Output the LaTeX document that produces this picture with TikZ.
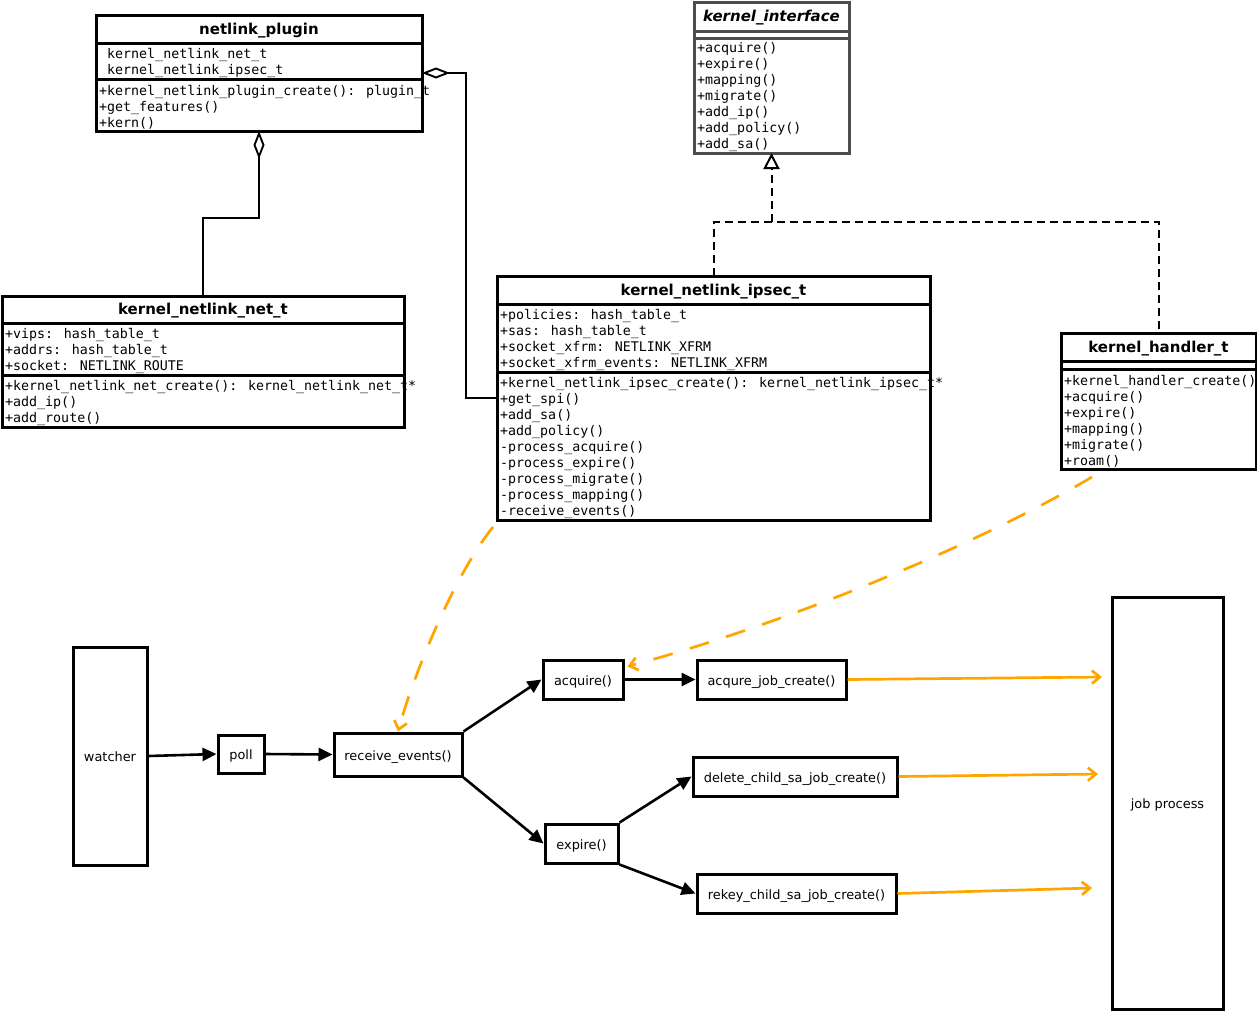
\documentclass[tikz,border=0pt]{standalone}
\usepackage{fontspec}
\setmainfont{DejaVu Sans}
\newfontfamily\umlmono{DejaVu Sans Mono}
\usetikzlibrary{arrows.meta,positioning,calc}
\definecolor{kigray}{HTML}{4D4D4D}
\definecolor{flow}{HTML}{FFA500}

\tikzset{
  classtitle/.style={draw,line width=3pt,inner sep=0pt,outer sep=0pt,text height=14pt,text depth=3.4pt,font=\bfseries\fontsize{15}{18}\selectfont},
  compart/.style={draw,line width=3pt,inner sep=0pt,outer sep=0pt},
  members/.style={anchor=west,align=left,inner xsep=3pt,inner ysep=0pt,yshift=-1.8pt,font=\umlmono\fontsize{13.3}{16}\selectfont},
  aggr/.style={line width=1.9pt,-{Diamond[open,length=28pt,width=11pt]}},
  realize/.style={line width=2pt,dash pattern=on 8pt off 5pt},
  proc/.style={draw,line width=3pt,inner sep=0pt,text height=13pt,text depth=2pt,font=\fontsize{12.9}{15}\selectfont},
  call/.style={line width=2.6pt,-{Triangle[length=14pt,width=13pt]}},
  job/.style={draw=flow,line width=2.7pt,-{Straight Barb[length=8pt,width=13pt]}},
  event/.style={job,dash pattern=on 20pt off 18pt}
}

\begin{document}
\begin{tikzpicture}[x=1pt,y=-1pt]
  \useasboundingbox (0,0) rectangle (1257,1010);

  % netlink_plugin
  \node[classtitle,minimum width=326pt,minimum height=28pt] (np) at (259,29) {netlink\_plugin};
  \node[compart,minimum width=326pt,minimum height=36pt,below=0pt of np] (np-attr) {};
  \node[compart,minimum width=326pt,minimum height=52pt,below=0pt of np-attr] (np-meth) {};
  \node[members] (np-attr-txt) at (np-attr.west) {\phantom{+}kernel\_netlink\_net\_t\\\phantom{+}kernel\_netlink\_ipsec\_t};
  \node[members] (np-meth-txt) at (np-meth.west) {+kernel\_netlink\_plugin\_create(): plugin\_t\\+get\_features()\\+kern()};

  % kernel_interface
  \node[classtitle,draw=kigray,minimum width=155pt,minimum height=29pt,font=\bfseries\itshape\fontsize{15}{18}\selectfont] (ki) at (771.5,16.5) {kernel\_interface};
  \node[compart,draw=kigray,minimum width=155pt,minimum height=7pt,below=0pt of ki] (ki-attr) {};
  \node[compart,draw=kigray,minimum width=155pt,minimum height=115pt,below=0pt of ki-attr] (ki-meth) {};
  \node[members] (ki-meth-txt) at (ki-meth.west) {+acquire()\\+expire()\\+mapping()\\+migrate()\\+add\_ip()\\+add\_policy()\\+add\_sa()};

  % kernel_netlink_net_t
  \node[classtitle,minimum width=402pt,minimum height=27pt] (nnt) at (203,309.5) {kernel\_netlink\_net\_t};
  \node[compart,minimum width=402pt,minimum height=52pt,below=0pt of nnt] (nnt-attr) {};
  \node[compart,minimum width=402pt,minimum height=52pt,below=0pt of nnt-attr] (nnt-meth) {};
  \node[members] (nnt-attr-txt) at (nnt-attr.west) {+vips: hash\_table\_t\\+addrs: hash\_table\_t\\+socket: NETLINK\_ROUTE};
  \node[members] (nnt-meth-txt) at (nnt-meth.west) {+kernel\_netlink\_net\_create(): kernel\_netlink\_net\_t*\\+add\_ip()\\+add\_route()};

  % kernel_netlink_ipsec_t
  \node[classtitle,minimum width=433pt,minimum height=28pt] (ipsec) at (713.5,290) {kernel\_netlink\_ipsec\_t};
  \node[compart,minimum width=433pt,minimum height=68pt,below=0pt of ipsec] (ipsec-attr) {};
  \node[compart,minimum width=433pt,minimum height=148pt,below=0pt of ipsec-attr] (ipsec-meth) {};
  \node[members] (ipsec-attr-txt) at (ipsec-attr.west) {+policies: hash\_table\_t\\+sas: hash\_table\_t\\+socket\_xfrm: NETLINK\_XFRM\\+socket\_xfrm\_events: NETLINK\_XFRM};
  \node[members] (ipsec-meth-txt) at (ipsec-meth.west) {+kernel\_netlink\_ipsec\_create(): kernel\_netlink\_ipsec\_t*\\+get\_spi()\\+add\_sa()\\+add\_policy()\\-process\_acquire()\\-process\_expire()\\-process\_migrate()\\-process\_mapping()\\-receive\_events()};

  % kernel_handler_t
  \node[classtitle,minimum width=195pt,minimum height=28pt] (handler) at (1158.5,347) {kernel\_handler\_t};
  \node[compart,minimum width=195pt,minimum height=8pt,below=0pt of handler] (handler-attr) {};
  \node[compart,minimum width=195pt,minimum height=100pt,below=0pt of handler-attr] (handler-meth) {};
  \node[members] (handler-meth-txt) at (handler-meth.west) {+kernel\_handler\_create()\\+acquire()\\+expire()\\+mapping()\\+migrate()\\+roam()};

  % class relations
  \coordinate (ag1) at (259,218);
  \coordinate (ag2) at (466,73);
  \coordinate (rz) at (771.5,222);
  \draw[aggr] (nnt.north) |- (ag1) -- (np-meth.south);
  \draw[aggr] ($(ipsec-meth.north west)+(0,26)$) -| (ag2) -- (np-attr.east |- ag2);
  \draw[realize] (ipsec.north) |- (rz) -| (handler.north);
  \draw[realize,-{Triangle[open,length=16pt,width=16pt]}] (rz) -- (ki-meth.south);

  % event flow
  \node[proc,minimum width=74pt,minimum height=218pt] (watcher) at (110,756) {watcher};
  \node[proc,minimum width=46pt,minimum height=38pt] (poll) at (241,754) {poll};
  \node[proc,minimum width=128pt,minimum height=43pt] (recv) at (398,754.5) {receive\_events()};
  \node[proc,minimum width=80pt,minimum height=39pt] (acq) at (583,679.5) {acquire()};
  \node[proc,minimum width=73pt,minimum height=39pt] (exp) at (581.5,843.5) {expire()};
  \node[proc,minimum width=149pt,minimum height=39pt] (acqjob) at (771.5,679.5) {acqure\_job\_create()};
  \node[proc,minimum width=204pt,minimum height=39pt] (deljob) at (795,776.5) {delete\_child\_sa\_job\_create()};
  \node[proc,minimum width=199pt,minimum height=39pt] (rekjob) at (796.5,893.5) {rekey\_child\_sa\_job\_create()};
  \node[proc,minimum width=111pt,minimum height=412pt] (jobs) at (1167.5,803) {job process};

  \draw[call] (watcher.east) -- (poll.west);
  \draw[call] (poll.east) -- (recv.west);
  \draw[call] (recv.north east) -- (acq.west);
  \draw[call] (recv.south east) -- (exp.west);
  \draw[call] (acq.east) -- (acqjob.west);
  \draw[call] (exp.north east) -- (deljob.west);
  \draw[call] (exp.south east) -- (rekjob.west);

  \coordinate (jp1) at (1102,677);
  \coordinate (jp2) at (1098,774);
  \coordinate (jp3) at (1092,888);
  \draw[job] (acqjob.east) -- (jp1);
  \draw[job] (deljob.east) -- (jp2);
  \draw[job] (rekjob.east) -- (jp3);

  \draw[event] ($(ipsec-meth.south west)+(-4,7)$) .. controls (452,578) and (412,680) .. (recv.north);
  \draw[event] ($(handler-meth.south west)+(31,8)$) .. controls (963,553) and (770,628) .. ($(acq.north east)+(3,8)$);
\end{tikzpicture}
\end{document}
